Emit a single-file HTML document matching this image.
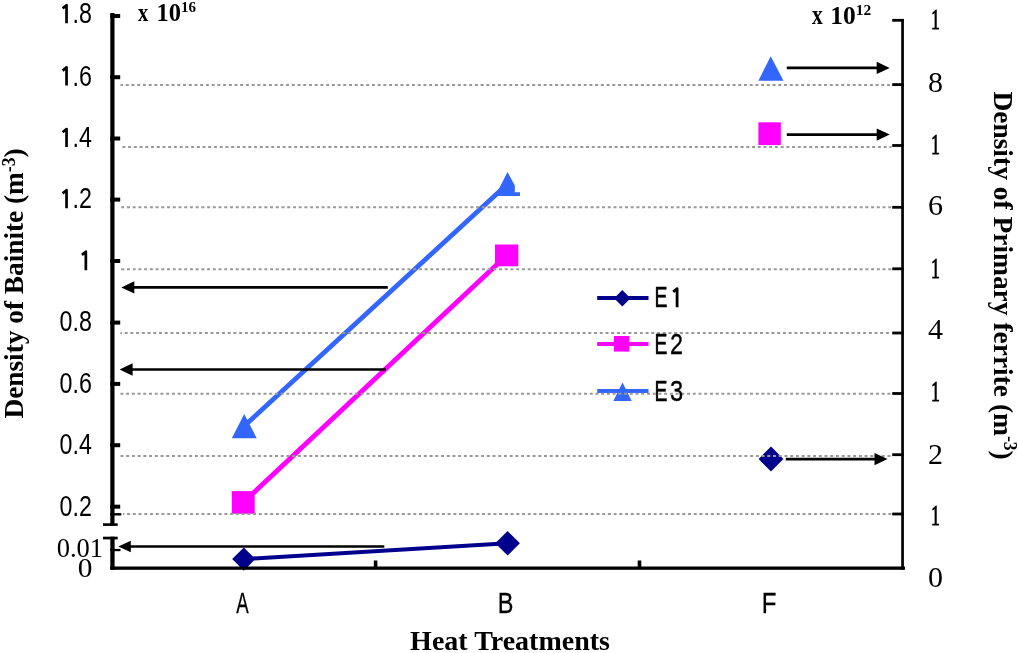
<!DOCTYPE html>
<html><head><meta charset="utf-8"><style>
html,body{margin:0;padding:0;background:#fff;width:1018px;height:653px;overflow:hidden}
svg{display:block;will-change:transform}
</style></head><body>
<svg width="1018" height="653" viewBox="0 0 1018 653">
<rect width="1018" height="653" fill="#fff"/>
<line x1="243.8" y1="559.1" x2="507.6" y2="543.3" stroke="#00008C" stroke-width="4" />
<line x1="243.2" y1="502.5" x2="506.6" y2="255.4" stroke="#FF00FF" stroke-width="4.8" />
<line x1="244.2" y1="426" x2="507.5" y2="184" stroke="#3366FF" stroke-width="4.8" />
<polygon points="243.8,547.5 255.4,559.1 243.8,570.7 232.20000000000002,559.1" fill="#00008C"/>
<polygon points="507.6,531.0 519.9,543.3 507.6,555.5999999999999 495.3,543.3" fill="#00008C"/>
<polygon points="771,446.6 783.4,459 771,471.4 758.6,459" fill="#00008C"/>
<rect x="231.8" y="491.1" width="22.9" height="22.7" fill="#FF00FF"/>
<rect x="494.9" y="244.5" width="23.4" height="21.8" fill="#FF00FF"/>
<rect x="758.4" y="122.3" width="22.4" height="22.8" fill="#FF00FF"/>
<polygon points="244.2,413.9 256.7,438.2 231.8,438.2" fill="#3366FF"/>
<polygon points="507.5,172 514.8,185.5 514.8,192.2 520,192.2 520,196 495.3,196" fill="#3366FF"/>
<polygon points="770.7,56.2 783.5,80.8 758.4,80.8" fill="#3366FF"/>
<line x1="597.2" y1="298" x2="648.5" y2="298" stroke="#00008C" stroke-width="4" />
<polygon points="622.3,290.1 630.5,298.3 622.3,306.5 614.0999999999999,298.3" fill="#00008C"/>
<line x1="597.2" y1="344" x2="648.5" y2="344" stroke="#FF00FF" stroke-width="4" />
<rect x="614" y="336" width="15.4" height="15.6" fill="#FF00FF"/>
<line x1="597.2" y1="391.1" x2="648.5" y2="391.1" stroke="#3366FF" stroke-width="4" />
<polygon points="622.5,382.6 631.7,401 613.3,401" fill="#3366FF"/>
<line x1="120.5" y1="84.9" x2="891.5" y2="84.9" stroke="#999999" stroke-width="2" stroke-dasharray="3 2.724" stroke-dashoffset="0.468"/>
<line x1="120.5" y1="147.1" x2="891.5" y2="147.1" stroke="#999999" stroke-width="2" stroke-dasharray="3 2.724" stroke-dashoffset="3.84"/>
<line x1="120.5" y1="207.3" x2="891.5" y2="207.3" stroke="#999999" stroke-width="2" stroke-dasharray="3 2.724" stroke-dashoffset="4.992"/>
<line x1="120.5" y1="269.2" x2="891.5" y2="269.2" stroke="#999999" stroke-width="2" stroke-dasharray="3 2.724" stroke-dashoffset="4.992"/>
<line x1="120.5" y1="333.1" x2="891.5" y2="333.1" stroke="#999999" stroke-width="2" stroke-dasharray="3 2.724" stroke-dashoffset="1.568"/>
<line x1="120.5" y1="393.7" x2="891.5" y2="393.7" stroke="#999999" stroke-width="2" stroke-dasharray="3 2.724" stroke-dashoffset="0.144"/>
<line x1="120.5" y1="455.9" x2="891.5" y2="455.9" stroke="#999999" stroke-width="2" stroke-dasharray="3 2.724" stroke-dashoffset="0.044"/>
<line x1="123.0" y1="514.0" x2="891.5" y2="514.0" stroke="#999999" stroke-width="2" stroke-dasharray="3 2.724" stroke-dashoffset="1.644"/>
<line x1="387.8" y1="287.4" x2="129.1" y2="287.4" stroke="#000" stroke-width="2.6" />
<polygon points="121.3,287.4 134.3,281.2 134.3,293.59999999999997" fill="#000"/>
<line x1="385.8" y1="369.5" x2="127.39999999999999" y2="369.5" stroke="#000" stroke-width="2.6" />
<polygon points="119.6,369.5 132.6,363.3 132.6,375.7" fill="#000"/>
<line x1="384.3" y1="546.5" x2="125.8" y2="546.5" stroke="#000" stroke-width="2.6" />
<polygon points="118.3,546.5 130.8,540.7 130.8,552.3" fill="#000"/>
<line x1="786.8" y1="67.9" x2="881.9000000000001" y2="67.9" stroke="#000" stroke-width="2.6" />
<polygon points="889.7,67.9 876.7,61.7 876.7,74.10000000000001" fill="#000"/>
<line x1="786.8" y1="134.6" x2="881.9000000000001" y2="134.6" stroke="#000" stroke-width="2.6" />
<polygon points="889.7,134.6 876.7,128.4 876.7,140.79999999999998" fill="#000"/>
<line x1="785.8" y1="459.1" x2="879.7" y2="459.1" stroke="#000" stroke-width="2.6" />
<polygon points="887.5,459.1 874.5,452.90000000000003 874.5,465.3" fill="#000"/>
<rect x="110.3" y="13" width="4.2" height="512.6" fill="#000"/>
<rect x="110.3" y="14" width="9.9" height="4" fill="#000"/>
<rect x="110.3" y="75.2" width="9.9" height="4.0" fill="#000"/>
<rect x="110.3" y="136.5" width="9.9" height="4.0" fill="#000"/>
<rect x="110.3" y="197.6" width="9.9" height="4.0" fill="#000"/>
<rect x="110.3" y="259" width="9.9" height="4" fill="#000"/>
<rect x="110.3" y="320.6" width="9.9" height="4.0" fill="#000"/>
<rect x="110.3" y="381.9" width="9.9" height="4.0" fill="#000"/>
<rect x="110.3" y="443.2" width="9.9" height="4.0" fill="#000"/>
<rect x="110.3" y="504.7" width="9.9" height="4.0" fill="#000"/>
<rect x="103" y="523.3" width="14.7" height="2.6" fill="#000"/>
<rect x="110.3" y="536.7" width="4.3" height="33.1" fill="#000"/>
<rect x="103" y="536.7" width="14.7" height="2.7" fill="#000"/>
<rect x="110.3" y="513.1" width="11.0" height="2.4" fill="#000"/>
<rect x="110.3" y="548.9" width="10.2" height="2.3" fill="#000"/>
<rect x="110.3" y="566.5" width="794.7" height="3.3" fill="#000"/>
<rect x="373.8" y="560.5" width="3.6" height="6.5" fill="#000"/>
<rect x="637.7" y="560.5" width="3.6" height="6.5" fill="#000"/>
<rect x="901.2" y="19" width="2.7" height="550.8" fill="#000"/>
<rect x="892.2" y="18.900000000000002" width="11.7" height="2.8" fill="#000"/>
<rect x="892.2" y="83.19999999999999" width="11.7" height="2.8" fill="#000"/>
<rect x="892.2" y="144.1" width="11.7" height="2.8" fill="#000"/>
<rect x="892.2" y="205.9" width="11.7" height="2.8" fill="#000"/>
<rect x="892.2" y="267.40000000000003" width="11.7" height="2.8" fill="#000"/>
<rect x="892.2" y="331.6" width="11.7" height="2.8" fill="#000"/>
<rect x="892.2" y="392.1" width="11.7" height="2.8" fill="#000"/>
<rect x="892.2" y="453.3" width="11.7" height="2.8" fill="#000"/>
<rect x="892.2" y="512.6" width="11.7" height="2.8" fill="#000"/>
<path d="M66.55000000000001,23.3 V5.2 L62.60000000000001,8.4" fill="none" stroke="#000" stroke-width="2.7" stroke-linejoin="round"/>
<text transform="translate(91.8,23.3) scale(0.8,1)" font-family="'Liberation Sans', sans-serif" font-size="29" font-weight="normal" text-anchor="end">.8</text>
<path d="M66.55000000000001,85.5 V67.4 L62.60000000000001,70.60000000000001" fill="none" stroke="#000" stroke-width="2.7" stroke-linejoin="round"/>
<text transform="translate(91.8,85.5) scale(0.8,1)" font-family="'Liberation Sans', sans-serif" font-size="29" font-weight="normal" text-anchor="end">.6</text>
<path d="M66.55000000000001,147.1 V129.0 L62.60000000000001,132.2" fill="none" stroke="#000" stroke-width="2.7" stroke-linejoin="round"/>
<text transform="translate(91.8,147.1) scale(0.8,1)" font-family="'Liberation Sans', sans-serif" font-size="29" font-weight="normal" text-anchor="end">.4</text>
<path d="M66.55000000000001,208.3 V190.2 L62.60000000000001,193.4" fill="none" stroke="#000" stroke-width="2.7" stroke-linejoin="round"/>
<text transform="translate(91.8,208.3) scale(0.8,1)" font-family="'Liberation Sans', sans-serif" font-size="29" font-weight="normal" text-anchor="end">.2</text>
<text transform="translate(91.8,331.1) scale(0.8,1)" font-family="'Liberation Sans', sans-serif" font-size="29" font-weight="normal" text-anchor="end">0.8</text>
<text transform="translate(91.8,392.5) scale(0.8,1)" font-family="'Liberation Sans', sans-serif" font-size="29" font-weight="normal" text-anchor="end">0.6</text>
<text transform="translate(91.8,454.2) scale(0.8,1)" font-family="'Liberation Sans', sans-serif" font-size="29" font-weight="normal" text-anchor="end">0.4</text>
<path d="M85.85000000000001,270.3 V251.7 L81.89999999999999,254.9" fill="none" stroke="#000" stroke-width="2.7" stroke-linejoin="round"/>
<text transform="translate(91.8,515.5) scale(0.8,1)" font-family="'Liberation Sans', sans-serif" font-size="29" font-weight="normal" text-anchor="end">0.2</text>
<text transform="translate(56.64,557.3) scale(0.965,1)" font-family="'Liberation Serif', serif" font-size="27.5" font-weight="normal" text-anchor="start">0.01</text>
<text transform="translate(77.7,576.6) scale(1.05,1)" font-family="'Liberation Serif', serif" font-size="28" font-weight="normal" text-anchor="start">0</text>
<text transform="translate(935.3,29.4) scale(0.6,1)" font-family="'Liberation Serif', serif" font-size="29.5" text-anchor="middle" stroke="#000" stroke-width="0.9">1</text>
<text transform="translate(935.6,91.80000000000001)" font-family="'Liberation Serif', serif" font-size="30" font-weight="normal" text-anchor="middle">8</text>
<text transform="translate(935.3,153.70000000000002) scale(0.6,1)" font-family="'Liberation Serif', serif" font-size="29.5" text-anchor="middle" stroke="#000" stroke-width="0.9">1</text>
<text transform="translate(935.6,215.3)" font-family="'Liberation Serif', serif" font-size="30" font-weight="normal" text-anchor="middle">6</text>
<text transform="translate(935.3,278.0) scale(0.6,1)" font-family="'Liberation Serif', serif" font-size="29.5" text-anchor="middle" stroke="#000" stroke-width="0.9">1</text>
<text transform="translate(935.6,339.4)" font-family="'Liberation Serif', serif" font-size="30" font-weight="normal" text-anchor="middle">4</text>
<text transform="translate(935.3,401.0) scale(0.6,1)" font-family="'Liberation Serif', serif" font-size="29.5" text-anchor="middle" stroke="#000" stroke-width="0.9">1</text>
<text transform="translate(935.6,463.79999999999995)" font-family="'Liberation Serif', serif" font-size="30" font-weight="normal" text-anchor="middle">2</text>
<text transform="translate(935.3,524.9) scale(0.6,1)" font-family="'Liberation Serif', serif" font-size="29.5" text-anchor="middle" stroke="#000" stroke-width="0.9">1</text>
<text transform="translate(935.6,586.5)" font-family="'Liberation Serif', serif" font-size="30" font-weight="normal" text-anchor="middle">0</text>
<text transform="translate(242.45,613.1) scale(0.614,1)" font-family="'Liberation Sans', sans-serif" font-size="30.3" text-anchor="middle" stroke="#000" stroke-width="0.3">A</text>
<text transform="translate(505.6,613.1) scale(0.776,1)" font-family="'Liberation Sans', sans-serif" font-size="30.3" text-anchor="middle" stroke="#000" stroke-width="0.3">B</text>
<text transform="translate(769.1,613.1) scale(0.793,1)" font-family="'Liberation Sans', sans-serif" font-size="30.3" text-anchor="middle" stroke="#000" stroke-width="0.3">F</text>
<text transform="translate(654.6,307.2) scale(0.646,1)" font-family="'Liberation Sans', sans-serif" font-size="30" stroke="#000" stroke-width="0.6">E</text>
<path d="M677.1,307.2 V288.59999999999997 L673.2,291.79999999999995" fill="none" stroke="#000" stroke-width="2.8" stroke-linejoin="round"/>
<text transform="translate(654.6,354) scale(0.646,1)" font-family="'Liberation Sans', sans-serif" font-size="30" stroke="#000" stroke-width="0.6">E</text>
<text transform="translate(669.93,354) scale(0.778,1)" font-family="'Liberation Sans', sans-serif" font-size="30" stroke="#000" stroke-width="0.35">2</text>
<text transform="translate(654.6,401.2) scale(0.646,1)" font-family="'Liberation Sans', sans-serif" font-size="30" stroke="#000" stroke-width="0.6">E</text>
<text transform="translate(670.11,401.2) scale(0.79,1)" font-family="'Liberation Sans', sans-serif" font-size="30" stroke="#000" stroke-width="0.35">3</text>
<text transform="translate(137.9,21.1) scale(0.84,1.06)" font-family="'Liberation Serif', serif" font-size="24.5" font-weight="bold">x</text>
<text transform="translate(156.6,21.1)" font-family="'Liberation Serif', serif" font-size="24.5" font-weight="bold">10<tspan font-size="15" dy="-9.3">16</tspan></text>
<text transform="translate(811.9,24.2) scale(0.84,1.06)" font-family="'Liberation Serif', serif" font-size="25.5" font-weight="bold">x</text>
<text transform="translate(830.2,24.2)" font-family="'Liberation Serif', serif" font-size="25.5" font-weight="bold">10<tspan font-size="15.5" dy="-9.6">12</tspan></text>
<text transform="translate(410.1,650.3)" font-family="'Liberation Serif', serif" font-size="28" font-weight="bold" text-anchor="start">Heat Treatments</text>
<text transform="translate(23.4,418.5) rotate(-90) scale(0.975,1)" font-family="'Liberation Serif', serif" font-size="28" font-weight="bold">Density of Bainite (m<tspan font-size="18" dy="-8.8">-3</tspan><tspan dy="8.8">)</tspan></text>
<text transform="translate(994.2,91.4) rotate(90) scale(0.981,1)" font-family="'Liberation Serif', serif" font-size="28" font-weight="bold">Density of Primary ferrite (m<tspan font-size="18" dy="-9.6">-3</tspan><tspan dy="9.6">)</tspan></text>
</svg>
</body></html>
